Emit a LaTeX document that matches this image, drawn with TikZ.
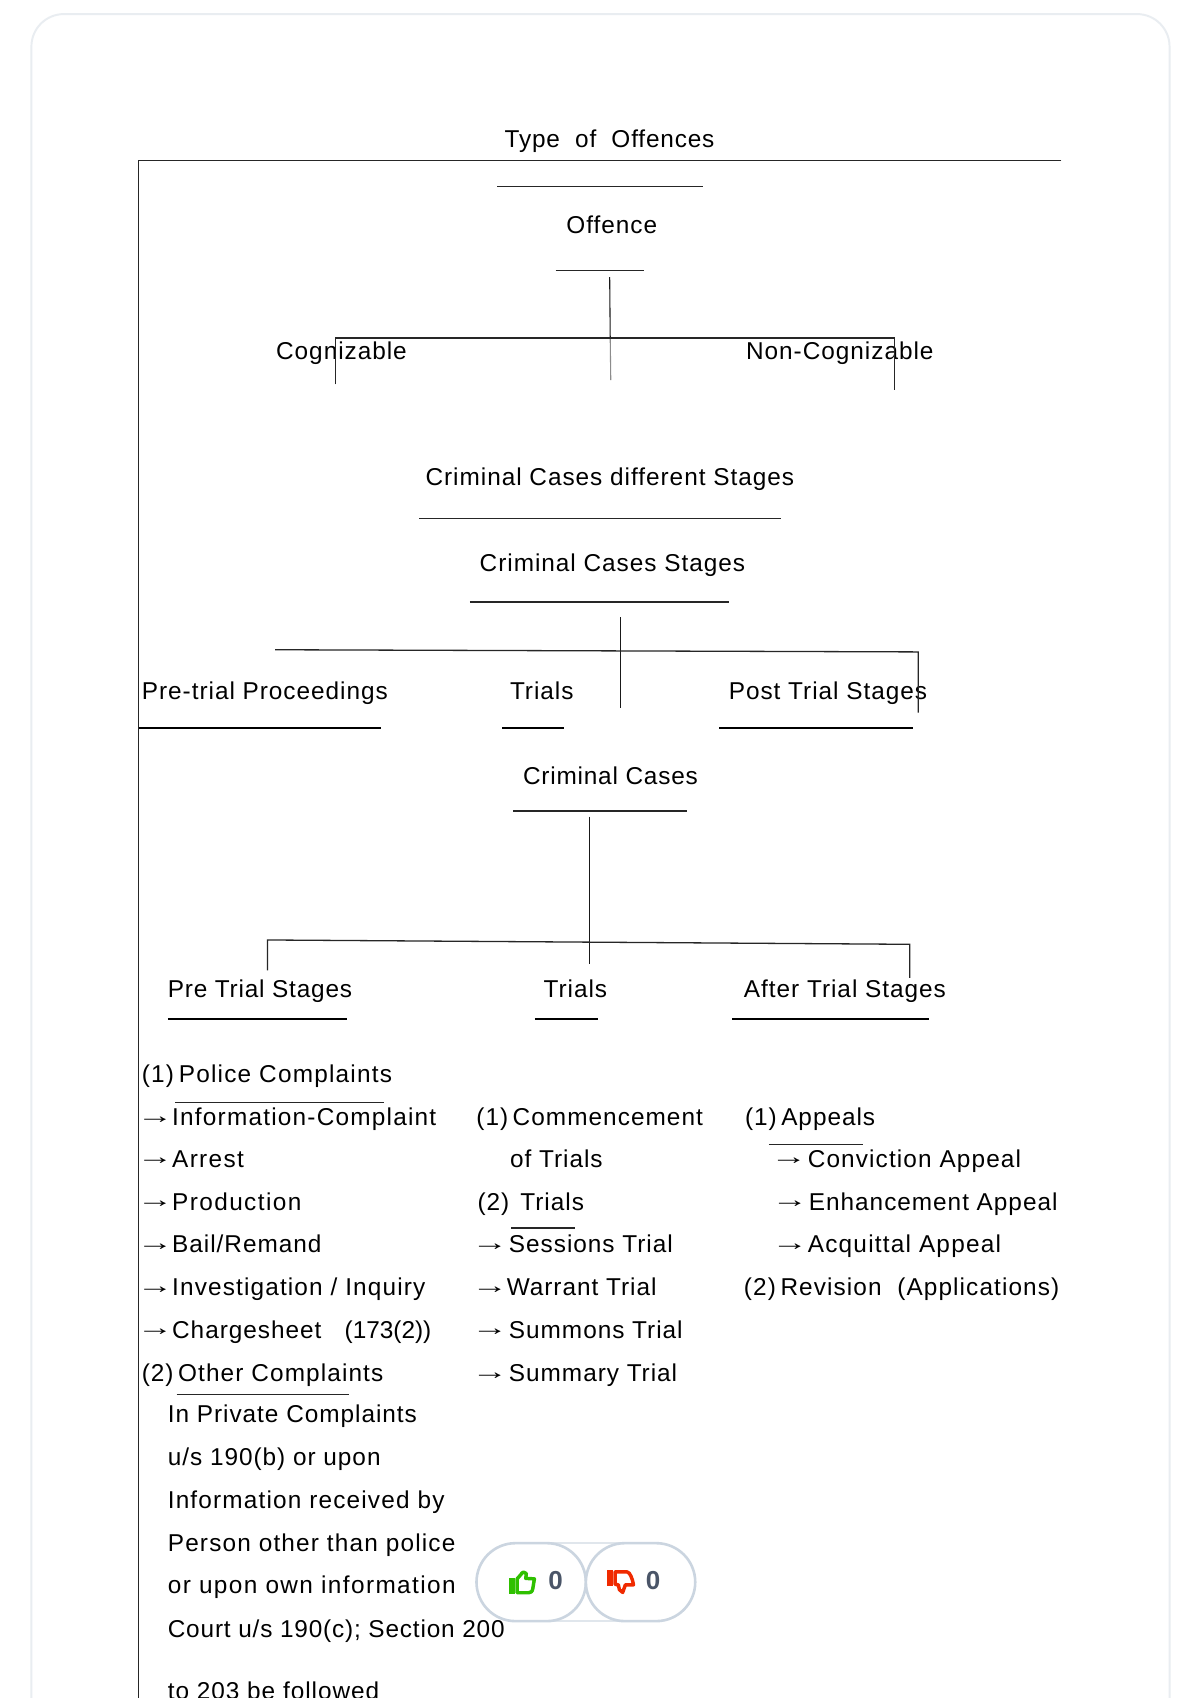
\documentclass[tikz,border=0pt]{standalone}
\usepackage{fontspec}
\usepackage{graphicx}
\setmainfont[LetterSpace=4]{Liberation Sans}
\newfontfamily\plainfont{Liberation Sans}
\definecolor{cardline}{HTML}{E9EDF1}
\definecolor{pillline}{HTML}{CBD5E0}
\definecolor{countcol}{HTML}{4A5568}
\definecolor{upcol}{HTML}{2FC000}
\definecolor{downcol}{HTML}{F02A00}
\newcommand{\ls}[2]{{\addfontfeature{LetterSpace=#1}#2}}
\newcommand{\nk}{\kern-3pt\ }
\tikzset{
  x=1pt,y=-1pt,
  lbl/.style={anchor=base west,inner sep=0pt,outer sep=0pt,yshift=-0.7pt,font=\fontsize{22.5}{25}\selectfont,text=black},
  arr/.style={anchor=base west,inner sep=0pt,outer sep=0pt,font=\plainfont\fontsize{21}{25}\selectfont,text=black},
  rule/.style={line width=1.2pt,black!85},
  hrule/.style={line width=2pt,black},
  stem/.style={line width=1pt,black!90},
  pill/.style={draw=pillline,line width=2.4pt,fill=white,rounded corners=36pt,minimum width=101pt,minimum height=72pt,inner sep=0pt},
  count/.style={anchor=base,inner sep=0pt,text=countcol,font=\plainfont\bfseries\fontsize{24}{25}\selectfont},
  hand/.style={line width=3.2pt,line join=round}
}
\newcommand{\arrowline}[5]{%
  \node[arr] (#1a) at (#2-5.5,#4) {\raisebox{1.5pt}{\scalebox{1.6}[1]{→}}};
  \node[lbl] (#1) at (#3,#4) {#5};}
\begin{document}
\begin{tikzpicture}
\path[use as bounding box] (0,0) rectangle (1108,1568);
\clip (0,0) rectangle (1108,1568);
\fill[white] (0,0) rectangle (1108,1568);
\draw[cardline,line width=1.8pt,rounded corners=30pt] (29,1640) -- (29,13) -- (1080,13) -- (1080,1640);

% frame
\coordinate (ftl) at (128,148); \coordinate (ftr) at (980,148); \coordinate (fbl) at (128,1568);
\draw[rule] (ftr) -- (ftl) -- (fbl);

% headings
\node[lbl] (type) at (466,135.5) {\ls{3.4}{Type\ \ of\ \ Offences}};
\node[lbl] (off) at (523,214.5) {Offence};
\node[lbl] (cog) at (255,331) {Cognizable};
\node[lbl] (ncog) at (689,331) {Non-Cognizable};
\node[lbl] (ccds) at (393,448) {Criminal Cases different Stages};
\node[lbl] (ccs) at (443,527) {Criminal Cases Stages};
\node[lbl] (ptp) at (131,645) {Pre-trial Proceedings};
\node[lbl] (tr1) at (471,645) {Trials};
\node[lbl] (pts) at (673,645) {Post Trial Stages};
\node[lbl] (cc) at (483,724) {\ls{3.3}{Criminal Cases}};
\node[lbl] (prts) at (155,920) {\ls{3.3}{Pre Trial Stages}};
\node[lbl] (tr2) at (502,920) {Trials};
\node[lbl] (ats) at (687,920) {After Trial Stages};

% rules under / over headings
\coordinate (r1a) at (459,172); \coordinate (r1b) at (649,172); \draw[rule] (r1a) -- (r1b);
\coordinate (r2a) at (513,250); \coordinate (r2b) at (595,250); \draw[rule] (r2a) -- (r2b);
\coordinate (r3a) at (387,479); \coordinate (r3b) at (721,479); \draw[rule] (r3a) -- (r3b);
\coordinate (r4a) at (434,556); \coordinate (r4b) at (673,556); \draw[rule] (r4a) -- (r4b);
\coordinate (r5a) at (128,672); \coordinate (r5b) at (352,672); \draw[hrule] (r5a) -- (r5b);
\coordinate (r6a) at (464,672); \coordinate (r6b) at (521,672); \draw[hrule] (r6a) -- (r6b);
\coordinate (r7a) at (664,672); \coordinate (r7b) at (843,672); \draw[hrule] (r7a) -- (r7b);
\coordinate (r8a) at (474,749); \coordinate (r8b) at (634,749); \draw[rule] (r8a) -- (r8b);
\coordinate (r9a) at (155,941); \coordinate (r9b) at (320,941); \draw[hrule] (r9a) -- (r9b);
\coordinate (r10a) at (494,941); \coordinate (r10b) at (552,941); \draw[hrule] (r10a) -- (r10b);
\coordinate (r11a) at (676,941); \coordinate (r11b) at (858,941); \draw[hrule] (r11a) -- (r11b);
\coordinate (r12a) at (162,1018); \coordinate (r12b) at (355,1018); \draw[rule] (r12a) -- (r12b);
\coordinate (r13a) at (472,1134); \coordinate (r13b) at (531,1134); \draw[rule] (r13a) -- (r13b);
\coordinate (r14a) at (710,1057); \coordinate (r14b) at (797,1057); \draw[rule] (r14a) -- (r14b);
\coordinate (r15a) at (163,1288); \coordinate (r15b) at (322,1288); \draw[rule] (r15a) -- (r15b);

% tree 1
\coordinate (t1top) at (563,256); \coordinate (t1mid) at (563.5,312); \coordinate (t1bot) at (564,351);
\coordinate (t1l) at (310,312); \coordinate (t1r) at (826,312);
\coordinate (t1lb) at (310,355); \coordinate (t1rb) at (826,360);
\draw[stem] (t1top) -- (t1mid);
\draw[stem,black!45] (t1mid) -- (t1bot);
\draw[rule] (t1lb) -- (t1l) -- (t1r) -- (t1rb);

% tree 2
\coordinate (t2top) at (573,570); \coordinate (t2bot) at (573,654);
\coordinate (t2l) at (254,600); \coordinate (t2r) at (848,602); \coordinate (t2rb) at (848,658);
\draw[stem] (t2top) -- (t2bot);
\draw[rule] (t2l) -- (t2r) -- (t2rb);

% tree 3
\coordinate (t3top) at (544,754); \coordinate (t3bot) at (544,890);
\coordinate (t3l) at (247,868); \coordinate (t3r) at (840,872);
\coordinate (t3lb) at (247,896); \coordinate (t3rb) at (840,903);
\draw[stem] (t3top) -- (t3bot);
\draw[rule] (t3lb) -- (t3l) -- (t3r) -- (t3rb);

% column 1
\node[lbl] (c1a) at (131,999) {\ls{5}{(1)\nk Police Complaints}};
\arrowline{c1b}{132}{159}{1039}{\ls{5}{Information-Complaint}}
\arrowline{c1c}{132}{159}{1077}{\ls{5.5}{Arrest}}
\arrowline{c1d}{132}{159}{1117}{\ls{5.8}{Production}}
\arrowline{c1e}{132}{159}{1156}{Bail/Remand}
\arrowline{c1f}{132}{159}{1196}{\ls{4.7}{Investigation / Inquiry}}
\arrowline{c1g}{132}{159}{1235}{Chargesheet\ \ \ \ls{0}{(173(2))}}
\node[lbl] (c1h) at (131,1275) {(2)\nk \ls{4.6}{Other Complaints}};
\node[lbl] (c1i) at (155,1313) {In Private Complaints};
\node[lbl] (c1j) at (155,1353) {u/s 190(b) or upon};
\node[lbl] (c1k) at (155,1392) {\ls{4.8}{Information received by}};
\node[lbl] (c1l) at (155,1432) {\ls{4.8}{Person other than police}};
\node[lbl] (c1m) at (155,1471) {\ls{5.7}{or upon own information}};
\node[lbl] (c1n) at (155,1511) {\ls{3.4}{Court u/s 190(c); Section 200}};
\node[lbl] (c1o) at (155,1569) {to 203 be followed};

% column 2
\node[lbl] (c2a) at (440,1039) {(1)\nk \ls{4.3}{Commencement}};
\node[lbl] (c2b) at (471,1077) {of Trials};
\node[lbl] (c2c) at (441,1117) {(2)\ \kern-4pt\ Trials};
\arrowline{c2d}{441}{470}{1156}{Sessions Trial}
\arrowline{c2e}{441}{468}{1196}{Warrant Trial}
\arrowline{c2f}{441}{470}{1235}{Summons Trial}
\arrowline{c2g}{441}{470}{1275}{Summary Trial}

% column 3
\node[lbl] (c3a) at (688,1039) {(1)\nk Appeals};
\arrowline{c3b}{717}{746}{1077}{\ls{4.6}{Conviction Appeal}}
\arrowline{c3c}{718}{747}{1117}{Enhancement Appeal}
\arrowline{c3d}{718}{746}{1156}{\ls{5}{Acquittal Appeal}}
\node[lbl] (c3e) at (687,1196) {\ls{4.5}{(2)\nk Revision\ \ (Applications)}};

% vote widget
\coordinate (vt) at (491,1425); \coordinate (vtr) at (590,1425);
\coordinate (vb) at (491,1497); \coordinate (vbr) at (590,1497);
\draw[pillline!60,line width=1.4pt] (vt) -- (vtr) (vb) -- (vbr);
\node[pill] (up) at (490.5,1461) {};
\node[pill] (down) at (591.5,1461) {};
% thumbs
\fill[upcol] (470,1457.5) rectangle (476,1472);
\draw[upcol,hand] (477.5,1458) -- (481,1454) .. controls (482,1451.5) and (485,1451) .. (486,1453) -- (485.5,1457.5) -- (493.5,1458) -- (492,1467) .. controls (491.5,1470) and (490,1470.8) .. (488,1470.8) -- (477.5,1470.8) -- cycle;
\fill[downcol] (560.7,1450) rectangle (566,1464.5);
\draw[downcol,hand] (568,1451.5) -- (579,1451.5) .. controls (582,1452) and (584,1458) .. (585,1463.5) -- (577.5,1463.5) -- (575,1470.5) -- (572,1468) -- (571,1463.5) -- (568,1463) -- cycle;
\node[count] (upn) at (513,1468) {0};
\node[count] (downn) at (603,1468) {0};
\end{tikzpicture}
\end{document}
